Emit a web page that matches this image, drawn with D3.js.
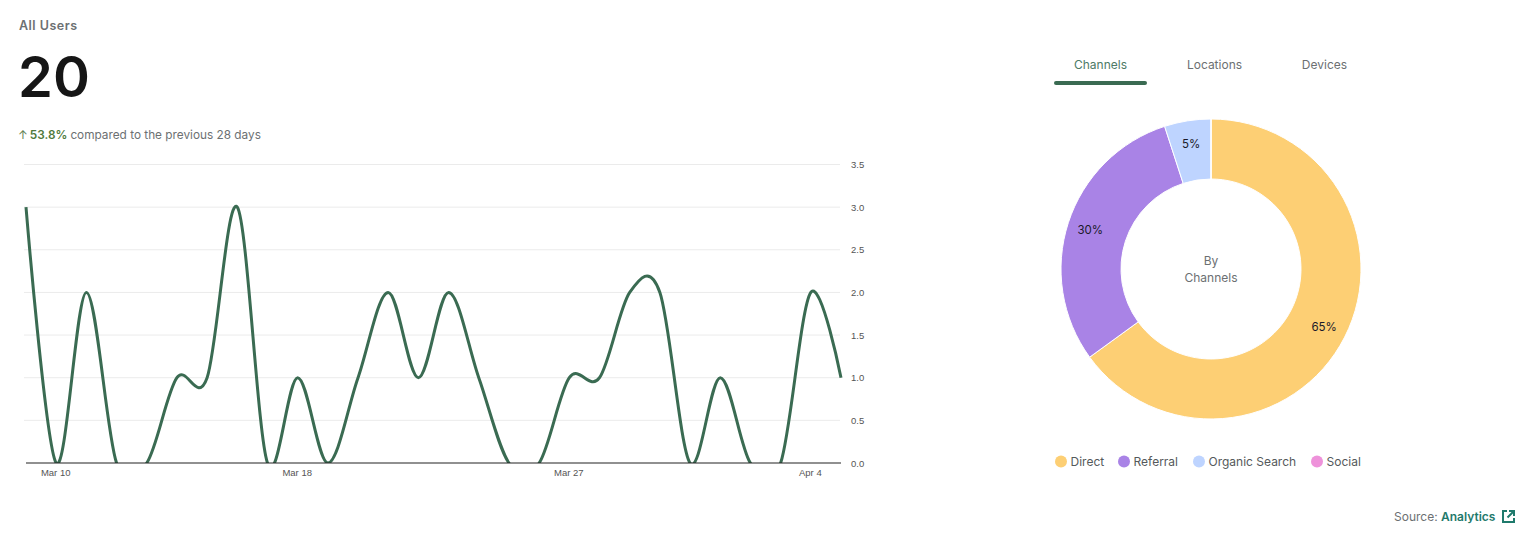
<!DOCTYPE html>
<html>
<head>
<meta charset="utf-8">
<script src="https://cdn.jsdelivr.net/npm/d3@7"></script>
<style>
  html, body { margin: 0; padding: 0; background: #fff; }
  svg { display: block; }
  .ui { font-family: Inter, Roboto, sans-serif; }
  .axis text { font-family: "Liberation Sans", Arial, sans-serif; font-size: 9.5px; fill: #555; }
</style>
</head>
<body>
<div id="chart"></div>
<script>
var days = ["Mar 9", "Mar 10", "Mar 11", "Mar 12", "Mar 13", "Mar 14", "Mar 15", "Mar 16", "Mar 17", "Mar 18",
  "Mar 19", "Mar 20", "Mar 21", "Mar 22", "Mar 23", "Mar 24", "Mar 25", "Mar 26", "Mar 27", "Mar 28",
  "Mar 29", "Mar 30", "Mar 31", "Apr 1", "Apr 2", "Apr 3", "Apr 4", "Apr 5"];
var users = [3, 0, 2, 0, 0, 1, 1, 3, 0, 1, 0, 1, 2, 1, 2, 1, 0, 0, 1, 1, 2, 2, 0, 1, 0, 0, 2, 1];
var xTicks = ["Mar 10", "Mar 18", "Mar 27", "Apr 4"];
var yTicks = [0, 0.5, 1, 1.5, 2, 2.5, 3, 3.5];

var channels = ["Direct", "Referral", "Organic Search", "Social"];
var shares = [65, 30, 5, 0];
var channelColors = ["#fdcf74", "#a983e6", "#bed4ff", "#ee92da"];
var tabs = ["Channels", "Locations", "Devices"];

var svg = d3.select("#chart").append("svg").attr("width", 1530).attr("height", 536);

// header
svg.append("text").attr("class", "ui").attr("x", 19).attr("y", 30)
  .attr("font-size", 12.5).attr("font-weight", 600).attr("letter-spacing", 0.5)
  .attr("fill", "#6c7072").text("All Users");
svg.append("text").attr("class", "ui").attr("x", 18).attr("y", 97)
  .attr("font-size", 56).attr("font-weight", 600).attr("fill", "#161616").text("20");
var change = svg.append("text").attr("class", "ui").attr("x", 18).attr("y", 139).attr("font-size", 11.8);
change.append("tspan").attr("fill", "#5f7f52").text("\u2191");
change.append("tspan").attr("fill", "#4f7a3c").attr("font-weight", 600).attr("dx", 2).text("53.8%");
change.append("tspan").attr("fill", "#6c7072").attr("dx", 3).text("compared to the previous 28 days");

// line chart
var x = d3.scalePoint().domain(days).range([26, 841]);
var y = d3.scaleLinear().domain([0, 3.5]).range([463, 164.5]);

svg.append("g").selectAll("line").data(yTicks.slice(1)).enter().append("line")
  .attr("x1", 24).attr("x2", 840)
  .attr("y1", function (d) { return y(d); })
  .attr("y2", function (d) { return y(d); })
  .attr("stroke", "#ebebeb").attr("stroke-width", 1);

svg.append("clipPath").attr("id", "plot-clip").append("rect")
  .attr("x", 20).attr("y", 150).attr("width", 825).attr("height", 313);

var line = d3.line()
  .x(function (d, i) { return x(days[i]); })
  .y(function (d) { return y(d); })
  .curve(d3.curveCardinal.tension(0));

svg.append("path").datum(users)
  .attr("d", line)
  .attr("clip-path", "url(#plot-clip)")
  .attr("fill", "none").attr("stroke", "#3a6b52").attr("stroke-width", 3);

var yAxis = svg.append("g").attr("class", "axis")
  .attr("transform", "translate(841,0)")
  .call(d3.axisRight(y).tickValues(yTicks).tickSize(0).tickPadding(10).tickFormat(d3.format(".1f")));
yAxis.select(".domain").remove();

var xAxis = svg.append("g").attr("class", "axis")
  .attr("transform", "translate(-1,463)")
  .call(d3.axisBottom(x).tickValues(xTicks).tickSize(0).tickPadding(6));
xAxis.select(".domain").remove();

svg.append("line").attr("x1", x.range()[0]).attr("x2", x.range()[1])
  .attr("y1", y(0)).attr("y2", y(0)).attr("stroke", "#222").attr("stroke-width", 1.2);

// tabs
var tabX = [1100.5, 1214.5, 1324.5];
svg.append("g").selectAll("text").data(tabs).enter().append("text")
  .attr("class", "ui")
  .attr("x", function (d, i) { return tabX[i]; })
  .attr("y", 69)
  .attr("text-anchor", "middle")
  .attr("font-size", 12)
  .attr("fill", function (d, i) { return i == 0 ? "#4d7a66" : "#6c7072"; })
  .text(function (d) { return d; });
svg.append("rect").attr("x", 1054).attr("y", 81).attr("width", 93).attr("height", 4).attr("rx", 2)
  .attr("fill", "#3a6b52");

// donut
var pie = d3.pie().sort(null).value(function (d) { return d; });
var arc = d3.arc().innerRadius(90).outerRadius(150);
var labelArc = d3.arc().innerRadius(127).outerRadius(127);
var donut = svg.append("g").attr("transform", "translate(1211,269)");

donut.selectAll("path").data(pie(shares)).enter().append("path")
  .attr("d", arc)
  .attr("fill", function (d, i) { return channelColors[i]; })
  .attr("stroke", "#fff").attr("stroke-width", 1);

donut.selectAll("text.pct").data(pie(shares).filter(function (d) { return d.data > 0; })).enter().append("text")
  .attr("class", "pct ui")
  .attr("transform", function (d) { return "translate(" + labelArc.centroid(d) + ")"; })
  .attr("dy", ".35em")
  .attr("text-anchor", "middle")
  .attr("font-size", 11.5)
  .attr("fill", "#1a1a2a")
  .text(function (d) { return d.data + "%"; });

donut.append("text").attr("class", "ui").attr("y", -4).attr("text-anchor", "middle")
  .attr("font-size", 12).attr("fill", "#6c7072").text("By");
donut.append("text").attr("class", "ui").attr("y", 13).attr("text-anchor", "middle")
  .attr("font-size", 12).attr("fill", "#6c7072").text("Channels");

// legend
var legendX = [1061, 1124, 1199, 1317];
var legend = svg.append("g").selectAll("g").data(channels).enter().append("g")
  .attr("transform", function (d, i) { return "translate(" + legendX[i] + ",461.5)"; });
legend.append("circle").attr("r", 6).attr("fill", function (d, i) { return channelColors[i]; });
legend.append("text").attr("class", "ui").attr("x", 9.5).attr("dy", ".35em")
  .attr("font-size", 12).attr("fill", "#55595b").text(function (d) { return d; });

// source
var source = svg.append("text").attr("class", "ui").attr("x", 1394).attr("y", 521).attr("font-size", 12);
source.append("tspan").attr("fill", "#6c7072").text("Source: ");
source.append("tspan").attr("fill", "#1f7a6c").attr("font-weight", 600).text("Analytics");
var icon = svg.append("g").attr("transform", "translate(1502,510)")
  .attr("fill", "none").attr("stroke", "#1f7a6c").attr("stroke-width", 2);
icon.append("path").attr("d", "M5 1H1V12H12V8");
icon.append("path").attr("d", "M7 1H12V6M12 1L5.5 7.5");
</script>
</body>
</html>
